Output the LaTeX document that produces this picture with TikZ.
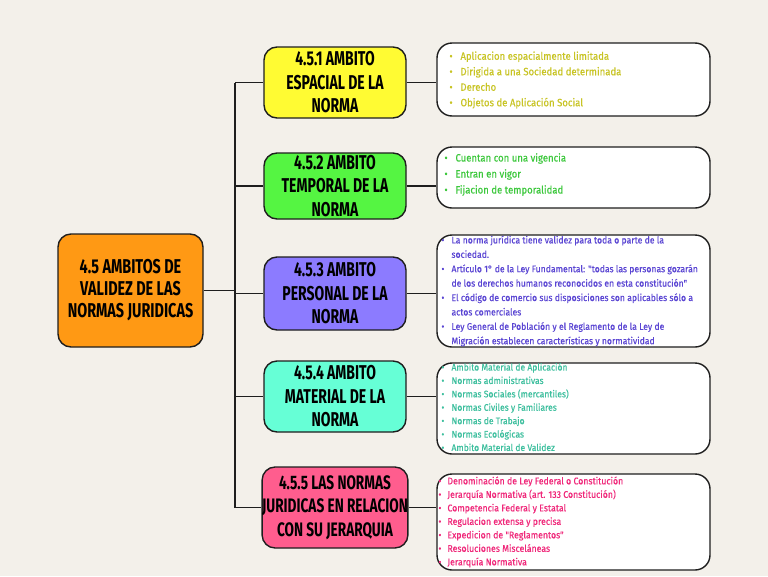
\documentclass[tikz,border=0pt]{standalone}
\usepackage{fontspec}
\setmainfont{Fira Sans}
\newfontfamily\hfont[FakeStretch=0.70]{Fira Sans}
\newfontfamily\rfont[FakeStretch=0.72]{Fira Sans}
\newfontfamily\lfont[FakeStretch=0.90,FakeBold=0.4]{Fira Sans}
\definecolor{bg}{HTML}{F3F0EA}
\definecolor{edge}{HTML}{1E1E1E}
\definecolor{corange}{HTML}{FF9914}
\definecolor{cyellow}{HTML}{FFFB33}
\definecolor{cgreen}{HTML}{55F542}
\definecolor{cpurple}{HTML}{8C7BFF}
\definecolor{caqua}{HTML}{66FFD6}
\definecolor{cpink}{HTML}{FF5D8E}
\definecolor{tyellow}{HTML}{C8C424}
\definecolor{tgreen}{HTML}{3CC83C}
\definecolor{tpurple}{HTML}{5A45D3}
\definecolor{tteal}{HTML}{3DBF9E}
\definecolor{tpink}{HTML}{F0287A}
\newcommand\bul{\makebox[11pt][l]{\textbullet}}
\newcommand\bult{\makebox[10pt][l]{\textbullet}}
\newcommand\ind{\hspace*{10pt}}
\begin{document}
\begin{tikzpicture}[x=1pt,y=-1pt,
 hbox/.style={draw=edge, line width=1.4pt, rounded corners=13pt, minimum width=142pt, align=center, font=\hfont\bfseries\fontsize{20}{23.5}\selectfont, inner sep=0pt, text=black},
 lbox/.style={draw=edge, line width=1.4pt, rounded corners=15pt, fill=white, minimum width=273pt},
 ltext/.style={anchor=west, align=left, inner sep=0pt},
 conn/.style={draw=edge, line width=1.1pt}]
\fill[bg] (0,0) rectangle (768,576);
\useasboundingbox (0,0) rectangle (768,576);
% nodes
\node[hbox, fill=corange, minimum width=145pt, minimum height=113pt, font=\rfont\bfseries\fontsize{20}{22}\selectfont] (root) at (130.5,290.5) {4.5 AMBITOS DE\\VALIDEZ DE LAS\\NORMAS JURIDICAS};
\node[hbox, fill=cyellow, minimum height=71pt] (c1) at (335,82.5) {4.5.1 AMBITO\\ESPACIAL DE LA\\NORMA};
\node[hbox, fill=cgreen, minimum height=66pt] (c2) at (335,186) {4.5.2 AMBITO\\TEMPORAL DE LA\\NORMA};
\node[hbox, fill=cpurple, minimum height=73pt] (c3) at (335,293.5) {4.5.3 AMBITO\\PERSONAL DE LA\\NORMA};
\node[hbox, fill=caqua, minimum height=71pt] (c4) at (335,396.5) {4.5.4 AMBITO\\MATERIAL DE LA\\NORMA};
\node[hbox, fill=cpink, minimum height=81pt, font=\hfont\bfseries\fontsize{19.5}{23.5}\selectfont] (c5) at (335,507.5) {4.5.5 LAS NORMAS\\JURIDICAS EN RELACION\\CON SU JERARQUIA};
\node[lbox, minimum height=73pt] (r1) at (573.5,79.5) {};
\node[lbox, minimum height=61pt] (r2) at (573.5,177.5) {};
\node[lbox, minimum height=112pt] (r3) at (573.5,291) {};
\node[lbox, minimum height=91pt] (r4) at (573.5,408.5) {};
\node[lbox, minimum height=96pt] (r5) at (573.5,522) {};
% connectors
\coordinate (t1) at (235,82.5);
\coordinate (t5) at (235,507.5);
\draw[conn] (t1) -- (t5);
\draw[conn] (root.east) -- (root.east -| t1);
\foreach \i in {1,...,5}{\draw[conn] (c\i.west -| t1) -- (c\i.west);}
\foreach \i in {1,...,5}{\draw[conn] (c\i.east) -- (c\i.east -| r\i.west);}
% texts
\node[ltext, text=tyellow, font=\lfont\fontsize{10.6}{15.5}\selectfont] (x1) at ([xshift=13pt,yshift=-0.5pt]r1.west) {\bul Aplicacion espacialmente limitada\\\bul Dirigida a una Sociedad determinada\\\bul Derecho\\\bul Objetos de Aplicación Social};
\node[ltext, text=tgreen, font=\lfont\fontsize{10.6}{16}\selectfont] (x2) at ([xshift=8pt,yshift=3pt]r2.west) {\bul Cuentan con una vigencia\\\bul Entran en vigor\\\bul Fijacion de temporalidad};
\node[ltext, text=tpurple, font=\lfont\fontsize{9.6}{14.4}\selectfont] (x3) at ([xshift=5pt]r3.west) {\bult La norma jurídica tiene validez para toda o parte de la\\\ind sociedad.\\\bult Artículo 1° de la Ley Fundamental: "todas las personas gozarán\\\ind de los derechos humanos reconocidos en esta constitución"\\\bult El código de comercio sus disposiciones son aplicables sólo a\\\ind actos comerciales\\\bult Ley General de Población y el Reglamento de la Ley de\\\ind Migración establecen características y normatividad};
\node[ltext, text=tteal, font=\lfont\fontsize{9.5}{13.4}\selectfont] (x4) at ([xshift=5pt,yshift=1.5pt]r4.west) {\bult Ambito Material de Aplicación\\\bult Normas administrativas\\\bult Normas Sociales (mercantiles)\\\bult Normas Civiles y Familiares\\\bult Normas de Trabajo\\\bult Normas Ecológicas\\\bult Ambito Material de Validez};
\node[ltext, text=tpink, font=\lfont\fontsize{9.7}{13.5}\selectfont] (x5) at ([xshift=2pt,yshift=0pt]r5.west) {\makebox[9pt][l]{\textbullet}Denominación  de Ley Federal o Constitución\\\makebox[9pt][l]{\textbullet}Jerarquía Normativa (art. 133 Constitución)\\\makebox[9pt][l]{\textbullet}Competencia Federal y Estatal\\\makebox[9pt][l]{\textbullet}Regulacion extensa y precisa\\\makebox[9pt][l]{\textbullet}Expedicion de "Reglamentos"\\\makebox[9pt][l]{\textbullet}Resoluciones Misceláneas\\\makebox[9pt][l]{\textbullet}Jerarquía Normativa};
\end{tikzpicture}
\end{document}
